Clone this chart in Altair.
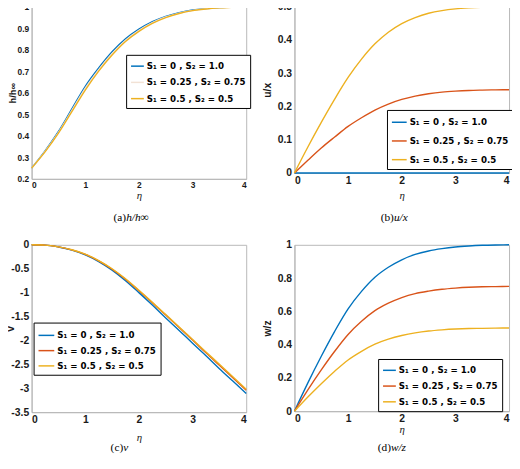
import altair as alt
import pandas as pd

# ---------------- data ----------------
eta = [0, 0.25, 0.5, 0.75, 1.0, 1.25, 1.5, 1.75, 2.0, 2.25, 2.5, 2.75, 3.0, 3.25, 3.5, 3.75, 4.0]

series_labels = ["S₁ = 0 , S₂ = 1.0", "S₁ = 0.25 , S₂ = 0.75", "S₁ = 0.5 , S₂ = 0.5"]

# (a) h/h_inf
h_s0 = [0.25, 0.33, 0.42, 0.525, 0.63, 0.715, 0.79, 0.85, 0.895, 0.93, 0.955, 0.972, 0.984, 0.991, 0.995, 0.998, 1.0]
h_s25 = [0.25, 0.328, 0.416, 0.518, 0.621, 0.707, 0.782, 0.844, 0.89, 0.926, 0.952, 0.97, 0.982, 0.99, 0.9945, 0.9975, 1.0]
h_s50 = [0.25, 0.325, 0.412, 0.512, 0.612, 0.70, 0.775, 0.838, 0.885, 0.922, 0.949, 0.968, 0.981, 0.989, 0.994, 0.997, 1.0]

# (b) u/x
u_s0 = [0] * 17
u_s25 = [0, 0.038, 0.075, 0.108, 0.14, 0.166, 0.189, 0.207, 0.221, 0.231, 0.238, 0.243, 0.246, 0.248, 0.249, 0.2497, 0.25]
u_s50 = [0, 0.078, 0.152, 0.222, 0.287, 0.342, 0.388, 0.423, 0.449, 0.467, 0.48, 0.488, 0.493, 0.496, 0.498, 0.499, 0.5]

# (c) v
v_s0 = [0, -0.006, -0.045, -0.11, -0.21, -0.35, -0.53, -0.75, -1.0, -1.26, -1.53, -1.79, -2.06, -2.32, -2.59, -2.85, -3.11]
v_s25 = [0, -0.006, -0.043, -0.105, -0.2, -0.335, -0.51, -0.72, -0.96, -1.21, -1.47, -1.73, -1.99, -2.26, -2.52, -2.78, -3.04]
v_s50 = [0, -0.006, -0.042, -0.103, -0.196, -0.33, -0.50, -0.71, -0.95, -1.20, -1.46, -1.72, -1.98, -2.24, -2.50, -2.76, -3.02]

# (d) w/z
w_s0 = [0, 0.17, 0.33, 0.48, 0.615, 0.72, 0.805, 0.865, 0.91, 0.942, 0.963, 0.977, 0.987, 0.993, 0.997, 0.999, 1.0]
w_s25 = [0, 0.128, 0.248, 0.36, 0.461, 0.54, 0.604, 0.649, 0.683, 0.707, 0.722, 0.733, 0.74, 0.745, 0.748, 0.749, 0.75]
w_s50 = [0, 0.085, 0.165, 0.24, 0.308, 0.36, 0.403, 0.433, 0.455, 0.471, 0.482, 0.489, 0.494, 0.497, 0.498, 0.4995, 0.5]

x_ticks = [0, 1, 2, 3, 4]
a_ticks = [0.2, 0.3, 0.4, 0.5, 0.6, 0.7, 0.8, 0.9, 1]
b_ticks = [0, 0.1, 0.2, 0.3, 0.4, 0.5]
c_ticks = [-3.5, -3, -2.5, -2, -1.5, -1, -0.5, 0]
d_ticks = [0, 0.2, 0.4, 0.6, 0.8, 1]

captions = [("(a)", "h/h∞"), ("(b)", "u/x"), ("(c)", "v"), ("(d)", "w/z")]
y_titles = ["h/h∞", "u/x", "v", "w/z"]

BLUE, ORANGE, YELLOW = "#0072BD", "#D95319", "#EDB120"
PANEL_W = 218


def panel(values, ydom, yticks, ytitle, caption, h, colors, leg, ytx, xty,
          lab_size, lab_pad, cap_x, cap_y, sym_len, row_pad, ytitle_size):
    rows = []
    for lab, vals in zip(series_labels, values):
        for e, v in zip(eta, vals):
            rows.append({"eta": e, "series": lab, "val": v})
    df = pd.DataFrame(rows)
    lines = alt.Chart(df).mark_line(strokeWidth=1.4, interpolate="monotone").encode(
        x=alt.X("eta:Q", scale=alt.Scale(domain=[0, 4], nice=False),
                axis=alt.Axis(values=x_ticks, labelExpr="'' + datum.value", title="η",
                              titleFont="Liberation Serif", titleFontStyle="italic",
                              titleFontWeight="normal", titleFontSize=11,
                              titleY=xty, titleBaseline="middle",
                              labelFontSize=lab_size, labelPadding=lab_pad)),
        y=alt.Y("val:Q", scale=alt.Scale(domain=ydom, nice=False, zero=False),
                axis=alt.Axis(values=yticks, labelExpr="'' + datum.value", title=ytitle,
                              titleX=ytx, titleY=h / 2, titleBaseline="middle",
                              titleFontSize=ytitle_size,
                              labelFontSize=lab_size, labelPadding=3)),
        color=alt.Color("series:N",
                        scale=alt.Scale(domain=series_labels, range=colors),
                        legend=alt.Legend(orient="none", legendX=leg[0], legendY=leg[1],
                                          title=None, direction="vertical",
                                          fillColor="white", strokeColor="black",
                                          padding=4, symbolType="stroke",
                                          symbolSize=sym_len * sym_len,
                                          symbolStrokeWidth=1.5,
                                          labelFont="DejaVu Sans",
                                          labelFontWeight="bold", labelFontSize=8.8,
                                          labelColor="black", rowPadding=row_pad,
                                          labelOffset=2)),
    )
    tag = alt.Chart(pd.DataFrame({"t": [caption[0]]})).mark_text(
        font="Liberation Serif", fontSize=11.5, align="right", baseline="middle", color="black"
    ).encode(text="t:N", x=alt.value(cap_x), y=alt.value(cap_y))
    var = alt.Chart(pd.DataFrame({"t": [caption[1]]})).mark_text(
        font="Liberation Serif", fontSize=11.5, fontStyle="italic", align="left",
        baseline="middle", color="black"
    ).encode(text="t:N", x=alt.value(cap_x), y=alt.value(cap_y))
    return alt.layer(lines, tag, var).properties(width=PANEL_W, height=h)


pa = panel([h_s0, h_s25, h_s50], [0.2, 1], a_ticks, y_titles[0], captions[0], 175,
           [BLUE, "#F2E2D5", YELLOW], (96, 49), -19, 17, 8.5, 2, 96, 215, 13, 3.5, 9.5)
pb = panel([u_s0, u_s25, u_s50], [0, 0.5], b_ticks, y_titles[1], captions[1], 169,
           [BLUE, ORANGE, YELLOW], (94, 105), -27, 23, 10.5, 3, 101, 215, 15, 5, 10.5)
pc = panel([v_s0, v_s25, v_s50], [-3.5, 0], c_ticks, y_titles[2], captions[2], 170,
           [BLUE, ORANGE, YELLOW], (2, 79), -21, 26, 10.5, 3, 93, 206, 16, 1.5, 10.5)
pd_ = panel([w_s0, w_s25, w_s50], [0, 1], d_ticks, y_titles[3], captions[3], 169,
            [BLUE, ORANGE, YELLOW], (85, 116), -27, 19, 10.5, 3, 98, 206, 13, 3, 10.5)

chart = alt.concat(pa, pb, pc, pd_, columns=2, spacing={"row": 67, "column": 49},
                   bounds="flush").resolve_scale(
    color="independent", x="independent", y="independent"
).resolve_legend(color="independent").configure_view(
    stroke="#b8b8b8", strokeWidth=1
).configure_axis(
    grid=False, ticks=False, domainColor="#b8b8b8", domainWidth=1,
    labelFont="Liberation Sans", labelFontWeight="bold", labelColor="#1a1a1a",
    titleFont="Liberation Sans", titleFontWeight="bold", titleFontSize=10.5,
    titleColor="#1a1a1a"
).properties(
    autosize=alt.AutoSizeParams(type="none"),
    padding={"left": 24, "top": -5, "right": 488, "bottom": 455},
    background="white"
)

chart.save("out.html", embed_options={"renderer": "svg", "actions": False})
